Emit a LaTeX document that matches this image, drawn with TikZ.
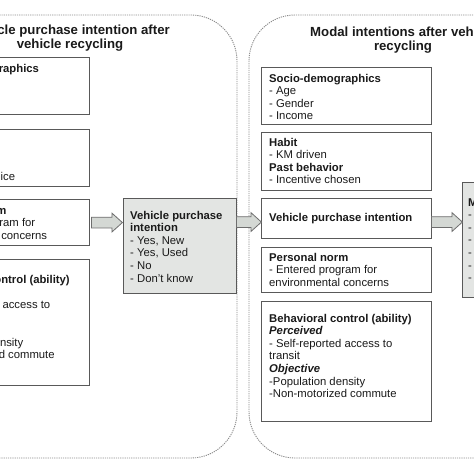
\documentclass[tikz,border=0pt]{standalone}
\usepackage{fontspec}
\setmainfont{Liberation Sans}
\usetikzlibrary{calc,shapes.arrows}
\definecolor{boxline}{HTML}{595959}
\definecolor{grayfill}{HTML}{E3E5E3}
\definecolor{arrfill}{HTML}{D4D8D4}
\definecolor{arrline}{HTML}{6E6E6E}
\definecolor{panelline}{HTML}{8C8C8C}
\definecolor{txtcol}{HTML}{1A1A1A}
\begin{document}
\begin{tikzpicture}[x=1pt,y=-1pt,
 panel/.style={draw=panelline, line width=0.9pt, dash pattern=on 1.2pt off 1pt, rounded corners=46pt},
 box/.style={draw=boxline, line width=1.1pt, fill=white, anchor=north west, inner sep=0pt, minimum width=170pt},
 graybox/.style={box, fill=grayfill},
 txt/.style={anchor=north west, inner sep=0pt, align=left, text=txtcol, font=\fontsize{11.3}{12.6}\selectfont},
 ttl/.style={anchor=north, inner sep=0pt, align=center, text=txtcol, font=\bfseries\fontsize{13.2}{14}\selectfont},
 blockarr/.style={single arrow, draw=arrline, fill=arrfill, line width=0.8pt, inner xsep=0pt, inner ysep=5pt, minimum width=18pt, single arrow head extend=4pt, single arrow tip angle=84, anchor=tip}
]
\useasboundingbox (0,0) rectangle (474,474);
\clip (0,0) rectangle (474,474);
\fill[white] (0,0) rectangle (474,474);

% panels
\draw[panel] (-200,15) rectangle (237,458);
\draw[panel] (249,15) rectangle (700,458);
\node[ttl] (ltitle) at (70,25) {Vehicle purchase intention after\\vehicle recycling};
\node[ttl] (rtitle) at (403,27) {Modal intentions after vehicle\\recycling};

% left column
\node[box, minimum height=57pt] (l1) at (-81,57) {};
\node[box, minimum height=57pt] (l2) at (-81,129) {};
\node[box, minimum height=46pt] (l3) at (-81,199) {};
\node[box, minimum height=126pt] (l4) at (-81,259) {};
\node[txt] (l1t) at ($(l1.north west)+(8,6.75)$) {\textbf{Socio-demographics}\\- Age\\- Gender\\- Income};
\node[txt] (l2t) at ($(l2.north west)+(8,5.75)$) {\textbf{Habit}\\- KM driven\\- Vehicle age\\- Incentive choice};
\node[txt] (l3t) at ($(l3.north west)+(8,6.75)$) {\textbf{Personal norm}\\- Entered program for\\environmental concerns};
\node[txt] (l4t) at ($(l4.north west)+(8,15.75)$) {\textbf{Behavioral control (ability)}\\\textbf{\textit{Perceived}}\\- Self-reported access to\\transit\\\textbf{\textit{Objective}}\\-Population density\\-Non-motorized commute};

% middle
\node[graybox, minimum width=113pt, minimum height=95pt] (mid) at (123,198) {};
\node[txt] (midt) at ($(mid.north west)+(7,12.75)$) {\textbf{Vehicle purchase}\\\textbf{intention}\\- Yes, New\\- Yes, Used\\- No\\- Don't know};

% right column
\node[box, minimum height=57pt] (r1) at (261,67) {};
\node[box, minimum height=58pt] (r2) at (261,132) {};
\node[box, minimum height=40pt] (r3) at (261,198) {};
\node[box, minimum height=45pt] (r4) at (261,247) {};
\node[box, minimum height=120pt] (r5) at (261,301) {};
\node[txt] (r1t) at ($(r1.north west)+(8,6.75)$) {\textbf{Socio-demographics}\\- Age\\- Gender\\- Income};
\node[txt] (r2t) at ($(r2.north west)+(8,5.75)$) {\textbf{Habit}\\- KM driven\\\textbf{Past behavior}\\- Incentive chosen};
\node[txt, anchor=west] (r3t) at ($(r3.west)+(8,0.5)$) {\textbf{Vehicle purchase intention}};
\node[txt] (r4t) at ($(r4.north west)+(8,5.75)$) {\textbf{Personal norm}\\- Entered program for\\environmental concerns};
\node[txt] (r5t) at ($(r5.north west)+(8,12.75)$) {\textbf{Behavioral control (ability)}\\\textbf{\textit{Perceived}}\\- Self-reported access to\\transit\\\textbf{\textit{Objective}}\\-Population density\\-Non-motorized commute};

% final
\node[graybox, minimum width=200pt, minimum height=115pt] (fin) at (462,182) {};
\node[txt] (fint) at ($(fin.north west)+(6,15.75)$) {\textbf{Modal intentions}\\- Car\\- Public transit\\- Bicycle\\- Walking\\- Carsharing\\- Other};

% arrows
\node[blockarr, minimum height=31pt] (a1) at (mid.west |- l3.west) {};
\node[blockarr, minimum height=25pt] (a2) at ($(r3.west)+(1,3.5)$) {};
\node[blockarr, minimum height=31pt] (a3) at ($(fin.west |- a2.tip)+(1,0)$) {};
\end{tikzpicture}
\end{document}
